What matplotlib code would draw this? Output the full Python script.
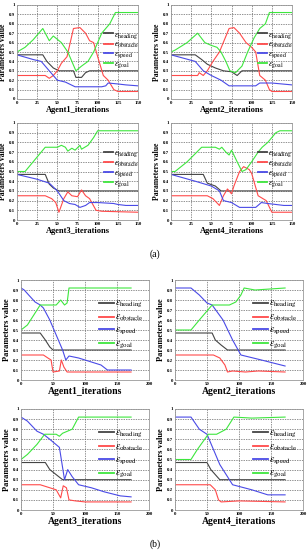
import matplotlib
matplotlib.use("Agg")
import matplotlib.pyplot as plt

# ---------------- data (a) : x 0-150 ----------------
a1_heading = [(0, .47), (32, .47), (37, .40), (45, .33), (52, .30), (70, .30), (73, .23), (80, .23), (85, .28), (90, .30), (150, .30)]
a1_obstacle = [(0, .25), (35, .25), (40, .22), (45, .25), (50, .30), (55, .38), (62, .45), (70, .75), (78, .76), (85, .70), (90, .62), (95, .60), (100, .45), (107, .25), (113, .20), (120, .10), (125, .08), (150, .08)]
a1_speed = [(0, .47), (20, .42), (30, .40), (40, .30), (50, .20), (60, .18), (72, .13), (105, .13), (110, .14), (113, .17), (125, .16), (135, .15), (150, .14)]
a1_goal = [(0, .50), (10, .55), (20, .63), (32, .75), (40, .62), (45, .67), (55, .60), (63, .50), (73, .30), (80, .35), (88, .40), (95, .50), (100, .60), (105, .70), (110, .75), (115, .80), (122, .92), (150, .92)]

a2_heading = [(0, .47), (30, .47), (38, .42), (45, .37), (55, .33), (65, .30), (75, .29), (82, .25), (88, .30), (150, .30)]
a2_obstacle = [(0, .25), (33, .25), (35, .28), (40, .25), (45, .30), (52, .40), (60, .50), (72, .75), (78, .76), (85, .70), (93, .60), (100, .55), (105, .50), (110, .25), (117, .20), (122, .10), (125, .08), (150, .08)]
a2_speed = [(0, .47), (30, .40), (40, .30), (50, .25), (62, .20), (72, .14), (105, .14), (110, .17), (125, .17), (150, .15)]
a2_goal = [(0, .50), (5, .52), (20, .60), (33, .70), (42, .60), (50, .57), (57, .55), (62, .50), (68, .40), (73, .30), (80, .28), (88, .35), (95, .50), (103, .65), (110, .75), (117, .80), (122, .92), (150, .92)]

a3_heading = [(0, .47), (35, .47), (40, .37), (45, .33), (52, .30), (150, .30)]
a3_obstacle = [(0, .25), (35, .25), (43, .22), (48, .18), (52, .08), (58, .22), (63, .29), (68, .25), (75, .24), (80, .31), (85, .25), (90, .22), (98, .10), (105, .09), (150, .08)]
a3_speed = [(0, .47), (25, .42), (40, .38), (50, .30), (58, .20), (65, .17), (72, .16), (78, .13), (85, .15), (90, .18), (100, .18), (120, .17), (125, .16), (135, .15), (150, .15)]
a3_goal = [(0, .50), (10, .50), (20, .60), (35, .75), (50, .75), (55, .77), (60, .75), (63, .71), (68, .74), (72, .72), (78, .77), (80, .73), (88, .77), (95, .85), (100, .92), (150, .92)]

a4_heading = [(0, .47), (40, .47), (45, .38), (55, .35), (62, .30), (150, .30)]
a4_obstacle = [(0, .25), (45, .25), (52, .22), (60, .15), (65, .25), (70, .32), (75, .27), (78, .35), (85, .50), (90, .55), (97, .52), (100, .48), (108, .25), (118, .20), (125, .08), (150, .08)]
a4_speed = [(0, .47), (30, .40), (50, .35), (60, .30), (65, .20), (75, .18), (85, .13), (105, .13), (112, .18), (120, .17), (140, .15), (150, .15)]
a4_goal = [(0, .50), (5, .50), (20, .60), (38, .75), (55, .75), (60, .73), (63, .75), (68, .70), (72, .67), (75, .72), (82, .60), (88, .50), (93, .52), (100, .60), (108, .70), (113, .75), (120, .80), (125, .85), (130, .90), (135, .92), (150, .92)]

# ---------------- data (b) : x 0-200 ----------------
b1_heading = [(0, .47), (30, .47), (38, .40), (45, .33), (50, .30), (172, .30)]
b1_obstacle = [(0, .25), (35, .25), (42, .22), (47, .20), (50, .08), (60, .09), (63, .20), (67, .13), (72, .08), (172, .08)]
b1_speed = [(0, .92), (5, .90), (12, .85), (22, .78), (30, .75), (35, .72), (45, .60), (55, .45), (65, .30), (70, .20), (75, .24), (90, .22), (110, .18), (125, .15), (135, .10), (172, .10)]
b1_goal = [(0, .50), (10, .55), (20, .65), (30, .75), (55, .75), (62, .80), (68, .75), (72, .77), (75, .92), (172, .92)]

b2_heading = [(0, .47), (58, .47), (63, .40), (72, .35), (82, .30), (172, .30)]
b2_obstacle = [(0, .25), (60, .25), (70, .22), (78, .15), (82, .08), (90, .09), (110, .08), (130, .09), (172, .08)]
b2_speed = [(0, .92), (25, .92), (38, .85), (50, .77), (58, .75), (75, .60), (90, .40), (103, .25), (135, .20), (172, .14)]
b2_goal = [(0, .50), (25, .50), (38, .60), (58, .75), (85, .75), (95, .78), (103, .85), (108, .92), (125, .90), (172, .92)]

b3_heading = [(0, .47), (38, .47), (45, .40), (55, .35), (65, .30), (172, .30)]
b3_obstacle = [(0, .25), (30, .25), (45, .22), (55, .20), (62, .12), (66, .24), (71, .22), (75, .10), (85, .09), (100, .08), (172, .08)]
b3_speed = [(0, .92), (10, .88), (25, .78), (35, .75), (45, .70), (60, .62), (63, .50), (68, .30), (73, .40), (80, .33), (90, .25), (110, .22), (130, .18), (155, .14), (172, .13)]
b3_goal = [(0, .50), (10, .55), (25, .65), (37, .75), (55, .75), (60, .73), (65, .76), (80, .80), (90, .92), (172, .92)]

b4_heading = [(0, .47), (50, .47), (56, .40), (63, .35), (70, .30), (172, .30)]
b4_obstacle = [(0, .25), (55, .25), (63, .20), (68, .10), (72, .08), (100, .09), (172, .08)]
b4_speed = [(0, .92), (25, .92), (38, .80), (50, .75), (60, .60), (70, .45), (90, .25), (120, .20), (145, .15), (172, .15)]
b4_goal = [(0, .50), (25, .50), (35, .60), (52, .75), (65, .75), (80, .80), (92, .92), (120, .91), (172, .92)]

agent_names = ["Agent1_iterations", "Agent2_iterations", "Agent3_iterations", "Agent4_iterations"]
legend_labels = [r"$\epsilon_{\mathrm{heading}}$", r"$\epsilon_{\mathrm{obstacle}}$",
                 r"$\epsilon_{\mathrm{speed}}$", r"$\epsilon_{\mathrm{goal}}$"]
y_ticks = [0, 0.1, 0.2, 0.3, 0.4, 0.5, 0.6, 0.7, 0.8, 0.9, 1]
y_ticklabels = ["0", "0.1", "0.2", "0.3", "0.4", "0.5", "0.6", "0.7", "0.8", "0.9", "1"]
a_xticks = [0, 25, 50, 75, 100, 125, 150]
b_xticks = [0, 50, 100, 150, 200]

panels_a = [[a1_heading, a1_obstacle, a1_speed, a1_goal],
            [a2_heading, a2_obstacle, a2_speed, a2_goal],
            [a3_heading, a3_obstacle, a3_speed, a3_goal],
            [a4_heading, a4_obstacle, a4_speed, a4_goal]]
panels_b = [[b1_heading, b1_obstacle, b1_speed, b1_goal],
            [b2_heading, b2_obstacle, b2_speed, b2_goal],
            [b3_heading, b3_obstacle, b3_speed, b3_goal],
            [b4_heading, b4_obstacle, b4_speed, b4_goal]]

colors = ["#444444", "#ff4a4a", "#4a4ae6", "#3ee63e"]

plt.rcParams['font.family'] = ['Liberation Serif', 'DejaVu Serif']
plt.rcParams['mathtext.fontset'] = 'stix'

W, H = 308, 550
fig = plt.figure(figsize=(W / 100, H / 100), dpi=100)


def px_axes(x0, y0, x1, y1):
    return fig.add_axes([x0 / W, 1 - y1 / H, (x1 - x0) / W, (y1 - y0) / H])


def style(ax, xticks, xmax, xlabel, tick_fs, lab_fs, xlab_fs):
    ax.set_xlim(0, xmax)
    ax.set_ylim(0, 1)
    ax.set_xticks(xticks)
    ax.set_yticks(y_ticks)
    ax.set_yticklabels(y_ticklabels)
    ax.tick_params(labelsize=tick_fs, length=0, pad=1.5)
    for t in ax.get_xticklabels() + ax.get_yticklabels():
        t.set_fontweight('bold')
    ax.grid(True, linestyle=(0, (2, 1.5)), color='#666666', linewidth=0.5)
    for s in ax.spines.values():
        s.set_color('#999999')
        s.set_linewidth(0.6)
    ax.set_xlabel(xlabel, fontsize=xlab_fs, fontweight='bold', labelpad=1)
    ax.set_ylabel("Parameters value", fontsize=lab_fs, fontweight='bold', labelpad=1)


# (a) layout
a_boxes = [(17, 5, 138, 99), (171, 5, 292, 99), (17, 123, 138, 220), (171, 123, 292, 220)]
for i, (box, series) in enumerate(zip(a_boxes, panels_a)):
    ax = px_axes(*box)
    for pts, c, lab in zip(series, colors, legend_labels):
        ax.plot([p[0] for p in pts], [p[1] for p in pts], color=c, lw=0.8, label=lab)
    style(ax, a_xticks, 150, agent_names[i], 3.5, 5.5, 6)
    leg = ax.legend(loc='upper left', bbox_to_anchor=(0.72, 0.73), frameon=False,
                    fontsize=6, handlelength=1.1, handletextpad=0.1,
                    labelspacing=0.0, borderaxespad=0, borderpad=0)
    for l in leg.get_lines():
        l.set_linewidth(1.3)

fig.text(155 / W, 1 - 254 / H, "(a)", ha='center', va='center', fontsize=7)

# (b) layout
b_boxes = [(21, 280, 149, 380), (175, 280, 303, 380), (21, 409, 149, 510), (175, 409, 303, 510)]
for i, (box, series) in enumerate(zip(b_boxes, panels_b)):
    ax = px_axes(*box)
    for pts, c, lab in zip(series, colors, legend_labels):
        ax.plot([p[0] for p in pts], [p[1] for p in pts], color=c, lw=0.8, label=lab)
    style(ax, b_xticks, 200, agent_names[i], 3.5, 6, 7)
    leg = ax.legend(loc='upper left', bbox_to_anchor=(0.61, 0.81), frameon=False,
                    fontsize=7, handlelength=1.5, handletextpad=0.1,
                    labelspacing=0.25, borderaxespad=0, borderpad=0)
    for l in leg.get_lines():
        l.set_linewidth(1.3)

fig.text(155 / W, 1 - 544 / H, "(b)", ha='center', va='center', fontsize=7)

fig.savefig("out.png", dpi=100)
